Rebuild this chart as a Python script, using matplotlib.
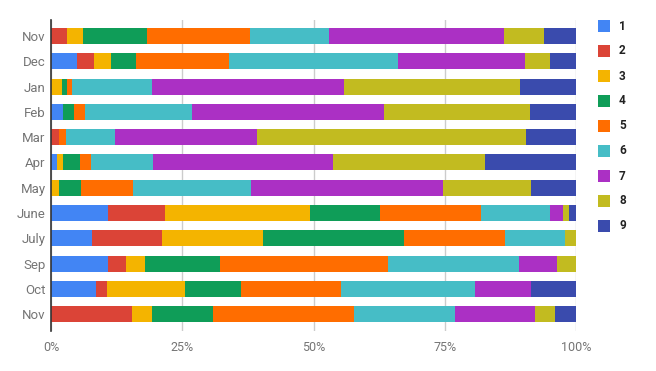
"""
100% stacked horizontal bars by month, nine series (Google-chart look).
Saves out.png at 656x371.
"""

import matplotlib
matplotlib.use("Agg")
import matplotlib.pyplot as plt
from matplotlib.patches import Rectangle
import numpy as np

plt.rcParams["font.family"] = ["Roboto", "DejaVu Sans"]

# -- Data (percent of row total) ----------------------------------------------
months = ["Nov", "Dec", "Jan", "Feb", "Mar", "Apr", "May",
          "June", "July", "Sep", "Oct", "Nov"]
series = ["1", "2", "3", "4", "5", "6", "7", "8", "9"]

s1 = [0.0, 4.9, 0.0, 2.2, 0.0, 1.1, 0.0, 10.8, 7.8, 10.8, 8.5, 0.0]
s2 = [3.0, 3.2, 0.0, 0.0, 1.5, 0.0, 0.0, 10.9, 13.3, 3.4, 2.1, 15.4]
s3 = [3.1, 3.2, 2.0, 0.0, 0.0, 1.1, 1.5, 27.7, 19.3, 3.6, 14.9, 3.8]
s4 = [12.2, 4.8, 1.0, 2.1, 0.0, 3.2, 4.2, 13.3, 26.9, 14.3, 10.7, 11.6]
s5 = [19.6, 17.7, 1.0, 2.1, 1.3, 2.1, 9.9, 19.3, 19.3, 32.0, 19.1, 26.9]
s6 = [15.1, 32.2, 15.3, 20.4, 9.4, 11.8, 22.5, 13.2, 11.4, 25.0, 25.6, 19.3]
s7 = [33.4, 24.2, 36.6, 36.6, 27.1, 34.3, 36.6, 2.5, 0.0, 7.2, 10.7, 15.3]
s8 = [7.6, 4.8, 33.6, 27.8, 51.3, 29.0, 16.8, 1.1, 2.0, 3.6, 0.0, 3.8]
s9 = [6.0, 4.9, 10.6, 8.7, 9.5, 17.3, 8.5, 1.3, 0.0, 0.0, 8.5, 3.9]

# -- Styling ------------------------------------------------------------------
COLORS = ["#4285F4", "#DB4437", "#F4B400", "#0F9D58", "#FF6D00",
          "#46BDC6", "#AB30C4", "#C2BB20", "#3A4BAD"]
GRID   = "#CCCCCC"
TICK_C = "#757575"
AXIS_C = "#333333"

fig = plt.figure(figsize=(6.56, 3.71), dpi=100)
fig.patch.set_facecolor("white")
ax = fig.add_axes([0.0782, 0.1065, 0.7994, 0.8396])

values = np.array([s1, s2, s3, s4, s5, s6, s7, s8, s9])
values = values / values.sum(axis=0) * 100.0
y = np.arange(len(months))

left = np.zeros(len(months))
for vals, col in zip(values, COLORS):
    ax.barh(y, vals, left=left, height=0.63, color=col,
            edgecolor="none", zorder=2)
    left += vals

ax.set_xlim(0, 100)
ax.set_ylim(11.68, -0.63)

ax.set_xticks([0, 25, 50, 75, 100])
ax.set_xticklabels(["0%", "25%", "50%", "75%", "100%"])
ax.set_yticks(y)
ax.set_yticklabels(months)
ax.tick_params(axis="x", length=0, pad=7, labelsize=9, colors=TICK_C)
ax.tick_params(axis="y", length=0, pad=4, labelsize=9.5, colors=TICK_C)

ax.grid(axis="x", color=GRID, linewidth=1, zorder=0)
ax.set_axisbelow(True)
for side in ("top", "right", "bottom"):
    ax.spines[side].set_visible(False)
ax.spines["left"].set_color(AXIS_C)
ax.spines["left"].set_linewidth(1.2)
ax.spines["left"].set_zorder(3)

# -- Legend (drawn by hand, right side) ---------------------------------------
W, H = 656.0, 371.0
for i, (name, col) in enumerate(zip(series, COLORS)):
    yc = 26 + i * 25.0
    fig.patches.append(Rectangle((598 / W, 1 - (yc + 6) / H), 12 / W, 12 / H,
                                 transform=fig.transFigure,
                                 facecolor=col, edgecolor="none"))
    fig.text(619 / W, 1 - yc / H, name, ha="left", va="center",
             fontsize=8.5, fontweight="bold", color="#222222")

fig.savefig("out.png", dpi=100, facecolor="white")
